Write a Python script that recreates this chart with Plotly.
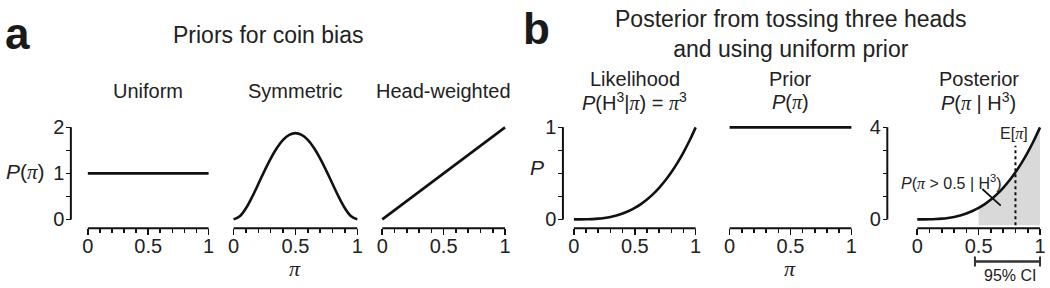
import plotly.graph_objects as go

W, H = 1050, 288

# ---------------- data ----------------
pi_grid = [0, 0.05, 0.1, 0.15, 0.2, 0.25, 0.3, 0.35, 0.4, 0.45, 0.5,
           0.55, 0.6, 0.65, 0.7, 0.75, 0.8, 0.85, 0.9, 0.95, 1]
uniform_x = [0, 1]
uniform_y = [1, 1]
symmetric_y = [0, 0.068, 0.243, 0.488, 0.768, 1.055, 1.323, 1.553, 1.728, 1.838, 1.875,
               1.838, 1.728, 1.553, 1.323, 1.055, 0.768, 0.488, 0.243, 0.068, 0]
head_x = [0, 1]
head_y = [0, 2]
likelihood_y = [0, 0.0001, 0.001, 0.003, 0.008, 0.016, 0.027, 0.043, 0.064, 0.091, 0.125,
                0.166, 0.216, 0.275, 0.343, 0.422, 0.512, 0.614, 0.729, 0.857, 1]
prior_x = [0, 1]
prior_y = [1, 1]
posterior_y = [0, 0.0005, 0.004, 0.014, 0.032, 0.063, 0.108, 0.172, 0.256, 0.365, 0.5,
               0.666, 0.864, 1.099, 1.372, 1.688, 2.048, 2.457, 2.916, 3.43, 4]
threshold = 0.5          # P(pi > 0.5 | H3)
post_mean = 0.8          # E[pi]
ci_low, ci_high = 0.47, 1.0   # 95% CI

x_tickvals = [0, 0.5, 1]
x_ticktext = ["0", "0.5", "1"]
x_minor = [0.1, 0.2, 0.3, 0.4, 0.6, 0.7, 0.8, 0.9]

# ---------------- layout helpers ----------------
def px_x(p):
    return p / W

def px_y(p):
    return 1 - p / H

FONT = "Liberation Sans, Arial, sans-serif"
INK = "#111111"
TXT = "#222222"
PI = '<span style="font-family:Liberation Serif, DejaVu Serif, serif;font-style:italic">π</span>'

Y0, Y1 = 221, 127      # pixel rows of value 0 and of the top value
XAX = 230              # pixel row of x axis lines
PAD = 8

# (title lines, x0 px, x1 px, top value, y-axis px or None, major y ticks, minor y ticks)
panels = [
    (["Uniform"], 87, 208, 2, 70, [0, 1, 2], [0.5, 1.5]),
    (["Symmetric"], 233, 357, 2, None, None, None),
    (["Head-weighted"], 382, 505, 2, None, None, None),
    (["Likelihood", "<i>P</i>(H<sup>3</sup>|" + PI + ") = " + PI + "<sup>3</sup>"],
     574, 696, 1, 563, [0, 1], [0.25, 0.5, 0.75]),
    (["Prior", "<i>P</i>(" + PI + ")"], 730, 852, 1, None, None, None),
    (["Posterior", "<i>P</i>(" + PI + " | H<sup>3</sup>)"],
     918, 1041, 4, 888, [0, 4], [1, 2, 3]),
]

fig = go.Figure()
layout = dict(width=W, height=H, margin=dict(l=0, r=0, t=0, b=0),
              paper_bgcolor="white", plot_bgcolor="rgba(0,0,0,0)",
              showlegend=False, font=dict(family=FONT, color=TXT, size=20))
shapes, annotations = [], []

for i, (titles, x0, x1, top, ypos, ytv, ymin) in enumerate(panels, start=1):
    xa, ya = f"xaxis{i}", f"yaxis{i}"
    xr, yr = f"x{i}", f"y{i}"
    xw = x1 - x0
    scale = (Y0 - Y1) / top
    layout[xa] = dict(
        domain=[px_x(x0 - 5), px_x(x1 + 5)], range=[-5 / xw, 1 + 5 / xw],
        anchor="free", position=px_y(XAX), showgrid=False, zeroline=False,
        showline=False, ticks="outside", tickvals=x_tickvals, ticktext=x_ticktext,
        ticklen=6, tickwidth=1.6, tickcolor=INK, tickfont=dict(size=20, color=TXT),
        ticklabelstandoff=-6,
        minor=dict(tickvals=x_minor, ticks="outside", ticklen=3.5, tickwidth=1.6,
                   tickcolor=INK, showgrid=False),
        fixedrange=True)
    yaxis = dict(
        domain=[px_y(Y0 + PAD), px_y(Y1 - PAD)],
        range=[-PAD / scale, top + PAD / scale],
        anchor="free", position=px_x(ypos) if ypos else 0,
        showgrid=False, zeroline=False, showline=False, fixedrange=True)
    if ypos:
        yaxis.update(ticks="outside", tickvals=ytv, ticklen=4.5,
                     tickwidth=1.6, tickcolor=INK, tickfont=dict(size=20, color=TXT),
                     ticklabelstandoff=-2,
                     minor=dict(tickvals=ymin, ticks="outside", ticklen=4.5, tickwidth=1.6,
                                tickcolor=INK, showgrid=False))
        shapes.append(dict(type="line", xref="paper", yref=yr,
                           x0=px_x(ypos), x1=px_x(ypos), y0=0, y1=top,
                           line=dict(color=INK, width=2)))
    else:
        yaxis.update(visible=False)
    layout[ya] = yaxis
    shapes.append(dict(type="line", xref=xr, yref="paper", x0=0, x1=1,
                       y0=px_y(XAX), y1=px_y(XAX), line=dict(color=INK, width=2)))
    # subplot titles
    cx = px_x((x0 + x1) / 2)
    if len(titles) == 1:
        annotations.append(dict(text=titles[0], x=cx, y=px_y(90), xref="paper", yref="paper",
                                showarrow=False, xanchor="center", yanchor="middle",
                                font=dict(size=20)))
    else:
        annotations.append(dict(text=titles[0], x=cx, y=px_y(78), xref="paper", yref="paper",
                                showarrow=False, xanchor="center", yanchor="middle",
                                font=dict(size=20)))
        annotations.append(dict(text=titles[1], x=cx, y=px_y(101), xref="paper", yref="paper",
                                showarrow=False, xanchor="center", yanchor="middle",
                                font=dict(size=20)))

line_style = dict(color=INK, width=2.6)

# posterior shading (area under curve for pi > threshold)
shade_x = [x for x in pi_grid if x >= threshold]
shade_y = [y for x, y in zip(pi_grid, posterior_y) if x >= threshold]
fig.add_trace(go.Scatter(x=shade_x + [shade_x[-1], shade_x[0]],
                         y=shade_y + [-0.25, -0.25], fill="toself",
                         fillcolor="#d9d9d9", line=dict(width=0), mode="lines",
                         xaxis="x6", yaxis="y6", hoverinfo="skip"))

fig.add_trace(go.Scatter(x=uniform_x, y=uniform_y, mode="lines", line=line_style,
                         xaxis="x1", yaxis="y1"))
fig.add_trace(go.Scatter(x=pi_grid, y=symmetric_y, mode="lines", line=line_style,
                         line_shape="spline", xaxis="x2", yaxis="y2"))
fig.add_trace(go.Scatter(x=head_x, y=head_y, mode="lines", line=line_style,
                         xaxis="x3", yaxis="y3"))
fig.add_trace(go.Scatter(x=pi_grid, y=likelihood_y, mode="lines", line=line_style,
                         line_shape="spline", xaxis="x4", yaxis="y4"))
fig.add_trace(go.Scatter(x=prior_x, y=prior_y, mode="lines", line=line_style,
                         xaxis="x5", yaxis="y5"))
# E[pi] dotted line
fig.add_trace(go.Scatter(x=[post_mean, post_mean], y=[-0.25, 3.2], mode="lines",
                         line=dict(color=INK, width=2, dash="dot"),
                         xaxis="x6", yaxis="y6"))
fig.add_trace(go.Scatter(x=pi_grid, y=posterior_y, mode="lines", line=line_style,
                         line_shape="spline", xaxis="x6", yaxis="y6"))

# pointer line for P(pi > 0.5 | H3)
shapes.append(dict(type="line", xref="x6", yref="y6", x0=0.53, y0=1.32, x1=0.68, y1=0.6,
                   line=dict(color=INK, width=1.8)))

# 95% CI bracket below posterior axis
by, bt, bb = px_y(264), px_y(259), px_y(269)
shapes += [
    dict(type="line", xref="x6", yref="paper", x0=ci_low, x1=ci_high, y0=by, y1=by,
         line=dict(color="#333", width=2.5)),
    dict(type="line", xref="x6", yref="paper", x0=ci_low, x1=ci_low, y0=bt, y1=bb,
         line=dict(color="#333", width=2)),
    dict(type="line", xref="x6", yref="paper", x0=ci_high, x1=ci_high, y0=bt, y1=bb,
         line=dict(color="#333", width=2)),
]
annotations.append(dict(text="95% CI", x=(ci_low + ci_high) / 2 + 0.02, y=px_y(278),
                        xref="x6", yref="paper", showarrow=False, xanchor="center",
                        yanchor="middle", font=dict(size=16)))
# P(pi > 0.5 | H3) label
annotations.append(dict(text="<i>P</i>(" + PI + " > 0.5 | H<sup>3</sup>)", x=px_x(952), y=px_y(183),
                        xref="paper", yref="paper", showarrow=False, xanchor="center",
                        yanchor="middle", font=dict(size=16)))
annotations.append(dict(text="E[" + PI + "]", x=px_x(1015), y=px_y(133), xref="paper",
                        yref="paper", showarrow=False, xanchor="center", yanchor="middle",
                        font=dict(size=16)))

# axis titles
annotations.append(dict(text="<i>P</i>(" + PI + ")", x=px_x(25), y=px_y(173), xref="paper",
                        yref="paper", showarrow=False, xanchor="center", yanchor="middle",
                        font=dict(size=21)))
annotations.append(dict(text="<i>P</i>", x=px_x(537), y=px_y(168), xref="paper",
                        yref="paper", showarrow=False, xanchor="center", yanchor="middle",
                        font=dict(size=21)))
for cxp in (295, 791):
    annotations.append(dict(text=PI, x=px_x(cxp), y=px_y(271), xref="paper", yref="paper",
                            showarrow=False, xanchor="center", yanchor="middle",
                            font=dict(size=22)))

# panel titles and letters
annotations.append(dict(text="Priors for coin bias", x=px_x(268), y=px_y(33), xref="paper",
                        yref="paper", showarrow=False, xanchor="center", yanchor="middle",
                        font=dict(size=23)))
annotations.append(dict(text="Posterior from tossing three heads<br>and using uniform prior",
                        x=px_x(792), y=px_y(32), xref="paper", yref="paper", showarrow=False,
                        xanchor="center", yanchor="middle", align="center",
                        font=dict(size=23)))
annotations.append(dict(text="<b>a</b>", x=px_x(17), y=px_y(31), xref="paper", yref="paper",
                        showarrow=False, xanchor="center", yanchor="middle",
                        font=dict(size=44, color="#1a1a1a")))
annotations.append(dict(text="<b>b</b>", x=px_x(537), y=px_y(26), xref="paper", yref="paper",
                        showarrow=False, xanchor="center", yanchor="middle",
                        font=dict(size=44, color="#1a1a1a")))

layout["shapes"] = shapes
layout["annotations"] = annotations
fig.update_layout(**layout)
fig.write_html("out.html", config={"displayModeBar": False, "staticPlot": True},
               post_script="document.body.style.margin='0';document.body.style.padding='0';")
